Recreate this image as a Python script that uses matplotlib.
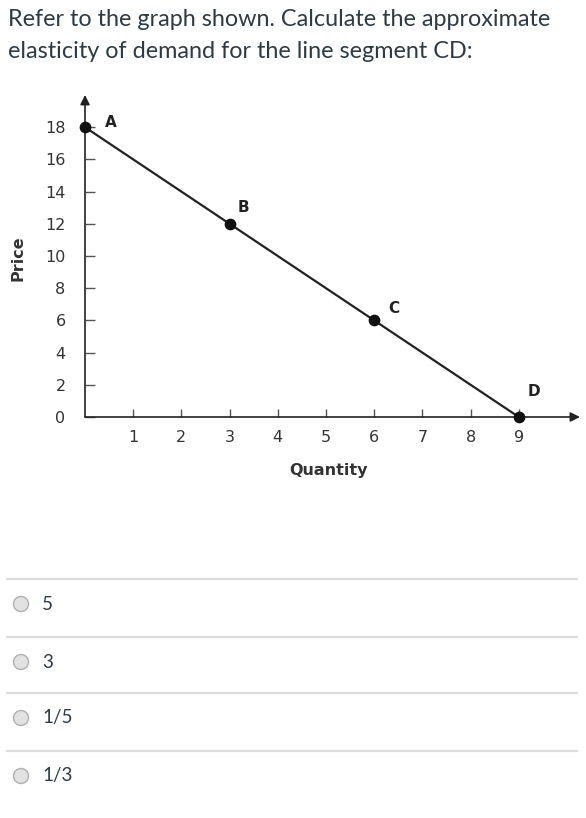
import matplotlib.pyplot as plt
from matplotlib.patches import Circle

W, H = 586, 818

question = ["Refer to the graph shown. Calculate the approximate",
            "elasticity of demand for the line segment CD:"]
point_names = ["A", "B", "C", "D"]
quantity = [0, 3, 6, 9]
price = [18, 12, 6, 0]
x_ticks = [1, 2, 3, 4, 5, 6, 7, 8, 9]
y_ticks = [0, 2, 4, 6, 8, 10, 12, 14, 16, 18]
options = ["5", "3", "1/5", "1/3"]

fig = plt.figure(figsize=(W / 100, H / 100), dpi=100)

# page layer in pixel coordinates
page = fig.add_axes([0, 0, 1, 1])
page.set_xlim(0, W)
page.set_ylim(H, 0)
page.axis("off")

txt = "#2d3b45"
for i, line in enumerate(question):
    page.text(8, 26 + 32 * i, line, fontsize=16.8, family="Lato",
              color=txt, va="baseline")

sep_y = [579, 637, 693, 751]
for i, opt in enumerate(options):
    page.plot([7, 577], [sep_y[i], sep_y[i]], color="#dddddd", lw=1.6)
    cy = sep_y[i] + 25
    page.add_patch(Circle((21, cy), 7.5, facecolor="#e2e2e2",
                          edgecolor="#b0b0b0", lw=1))
    page.text(42, cy, opt, fontsize=13.5, family="Lato", color=txt,
              va="center")

# chart
x0, x1, y0, y1 = 85, 580, 417, 95
ax = fig.add_axes([x0 / W, 1 - y0 / H, (x1 - x0) / W, (y0 - y1) / H])
ax.set_xlim(0, (x1 - x0) / 48.2)
ax.set_ylim(0, (y0 - y1) / 16.1)
for s in ax.spines.values():
    s.set_visible(False)
ax.patch.set_alpha(0)

ink = "#222222"
ax.annotate("", xy=(ax.get_xlim()[1], 0), xytext=(0, 0),
            arrowprops=dict(arrowstyle="-|>", color=ink, lw=1.2,
                            mutation_scale=14, shrinkA=0, shrinkB=0))
ax.annotate("", xy=(0, ax.get_ylim()[1]), xytext=(0, 0),
            arrowprops=dict(arrowstyle="-|>", color=ink, lw=1.2,
                            mutation_scale=14, shrinkA=0, shrinkB=0))

ax.set_xticks(x_ticks)
ax.set_yticks(y_ticks)
ax.tick_params(axis="x", direction="in", length=6, width=1, color="#555555",
               labelsize=11.5, labelcolor="#333333", pad=9)
ax.tick_params(axis="y", direction="in", length=7, width=1, color="#555555",
               labelsize=11.5, labelcolor="#333333", pad=14)

ax.plot(quantity, price, color=ink, lw=1.6, clip_on=False)
ax.scatter(quantity, price, s=55, color="#111111", zorder=5, clip_on=False)
offsets = [(14, -2), (6, 6), (10, 3), (6, 13)]
for name, q, p, off in zip(point_names, quantity, price, offsets):
    ax.annotate(name, (q, p), xytext=off, textcoords="offset points",
                fontsize=11, fontweight="bold", color=ink,
                ha="left", va="bottom")

page.text(328, 471, "Quantity", fontsize=11.5, fontweight="bold",
          color="#333333", ha="center", va="center")
page.text(18, 258, "Price", fontsize=11.5, fontweight="bold",
          color="#333333", ha="center", va="center", rotation=90)

fig.savefig("out.png", dpi=100)
